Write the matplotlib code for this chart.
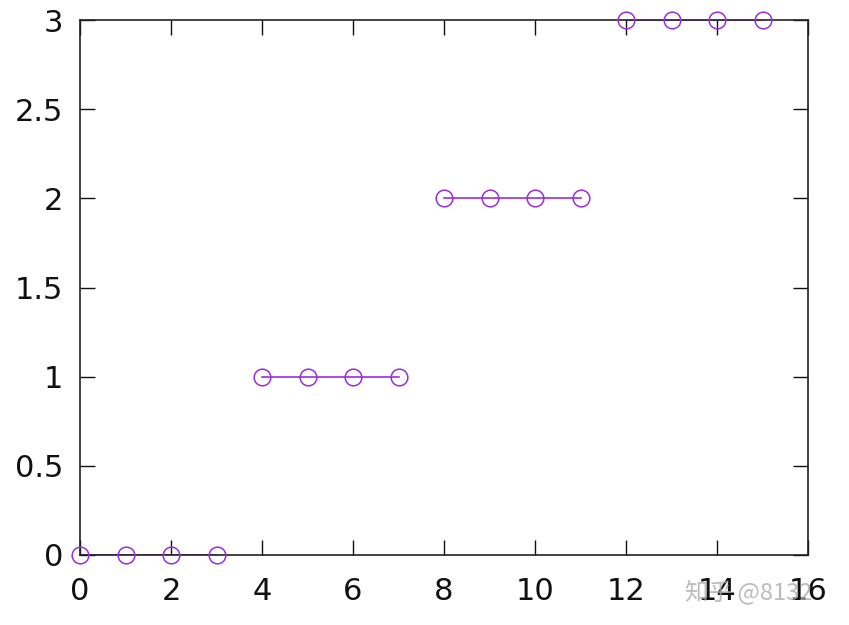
import numpy as np
import matplotlib.pyplot as plt

plt.rcParams['font.family'] = ['DejaVu Sans', 'Noto Sans CJK SC']

# data: four blocks of points, each drawn as its own line segment
x_blocks = [[0, 1, 2, 3], [4, 5, 6, 7], [8, 9, 10, 11], [12, 13, 14, 15]]
y_blocks = [[0, 0, 0, 0], [1, 1, 1, 1], [2, 2, 2, 2], [3, 3, 3, 3]]
xticks = [0, 2, 4, 6, 8, 10, 12, 14, 16]
yticks = [0, 0.5, 1, 1.5, 2, 2.5, 3]
ytick_labels = ['0', '0.5', '1', '1.5', '2', '2.5', '3']

color = '#9a2fdb'

fig = plt.figure(figsize=(8.49, 6.25), dpi=100)
ax = fig.add_axes([80 / 849, 1 - 555 / 625, 728 / 849, 535 / 625])

for xs, ys in zip(x_blocks, y_blocks):
    ax.plot(xs, ys, color=color, lw=1.2, zorder=2)
    ax.plot(xs, ys, ls='none', marker='o', ms=12, mfc='none', mec=color,
            mew=1.1, zorder=3, clip_on=False)

ax.set_xlim(0, 16)
ax.set_ylim(0, 3)
ax.set_xticks(xticks)
ax.set_yticks(yticks)
ax.set_yticklabels(ytick_labels)
ax.tick_params(direction='in', length=11, width=1, top=True, right=True,
               labelsize=22, colors='#111111')
ax.tick_params(axis='x', pad=16)
ax.tick_params(axis='y', pad=12)
for s in ax.spines.values():
    s.set_linewidth(1.2)
    s.set_color('#222222')
    s.set_zorder(2.5)

fig.text(685 / 849, 1 - 592 / 625, '知乎 @8132', fontsize=17, color='#aaaaaa',
         alpha=0.8, va='center', ha='left',
         family=['Noto Sans CJK SC', 'DejaVu Sans'])

fig.savefig('out.png', dpi=100)
